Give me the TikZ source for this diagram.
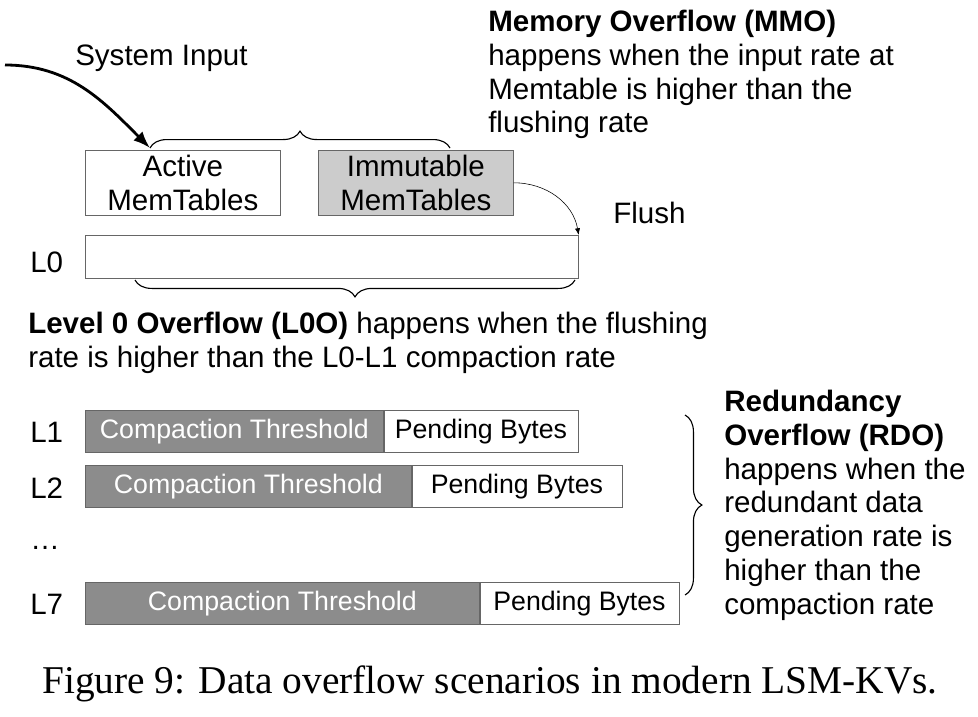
\documentclass[tikz,border=0pt]{standalone}
\usepackage{fontspec}
\setmainfont{Liberation Sans}
\newfontfamily\capfont{Liberation Serif}
\usetikzlibrary{arrows.meta, decorations.pathreplacing, positioning}
\definecolor{immgray}{HTML}{CCCCCC}
\definecolor{thrgray}{HTML}{8C8C8C}
\begin{document}
\begin{tikzpicture} [x=0.025cm, y=-0.025cm,
    every node/.style = {font=\fontsize{21}{24}\selectfont},
    txt/.style = {anchor=west, align=left, inner sep=0},
    membox/.style = {draw=black!60, minimum width=4.875cm, minimum height=1.625cm,
        align=center, inner sep=0},
    thr/.style = {draw=black!60, fill=thrgray, text=white, anchor=north west,
        minimum height=1.05cm, inner sep=0, font=\fontsize{19}{23}\selectfont},
    pend/.style = {draw=black!60, fill=white, anchor=north west,
        minimum height=1.05cm, inner sep=0, font=\fontsize{19}{23}\selectfont},
    brace/.style = {decorate, thick, decoration={brace, amplitude=12pt}}]
    \useasboundingbox (0,0) rectangle (978,716);

    % memtables
    \node (act) [membox, anchor=north west] at (85,150) {Active\\MemTables};
    \node (imm) [membox, anchor=north west, fill=immgray] at (318,150) {Immutable\\MemTables};
    \node (l0) [draw=black!60, anchor=north west, minimum width=12.325cm,
        minimum height=1.075cm, inner sep=0] at (85,235) {};
    \node (lab0) [txt] at (30,262) {L0};

    \coordinate (src) at (5,65);
    \coordinate (tip) at (150,148);
    \node (sysin) [txt] at (75,58) {System Input};
    \draw [-Latex, line width=2pt] (src) to[out=0, in=135] (tip);
    \node (flush) [txt] at (613,213) {Flush};
    \draw [-Latex] (imm.east) to[out=0, in=100] (l0.north east);

    \draw [brace] (150,148) -- (450,148);
    \draw [brace] (575,280) -- (135,280);

    \node (mmo) [txt, anchor=north west] at (488,10) {\textbf{Memory Overflow (MMO)}\\
        happens when the input rate at\\Memtable is higher than the\\flushing rate};
    \node (l0o) [txt, anchor=north west] at (28,312) {\textbf{Level 0 Overflow (L0O)} happens when the flushing\\
        rate is higher than the L0-L1 compaction rate};

    % levels
    \node (t1) [thr, minimum width=7.45cm] at (85,410) {Compaction Threshold};
    \node (p1) [pend, minimum width=4.85cm] at (t1.north east) {Pending Bytes};
    \node (t2) [thr, minimum width=8.15cm] at (85,465) {Compaction Threshold};
    \node (p2) [pend, minimum width=5.25cm] at (t2.north east) {Pending Bytes};
    \node (t7) [thr, minimum width=9.85cm] at (85,582) {Compaction Threshold};
    \node (p7) [pend, minimum width=4.975cm] at (t7.north east) {Pending Bytes};
    \node (lab1) [txt] at (30,432) {L1};
    \node (lab2) [txt] at (30,488) {L2};
    \node (dots) [txt] at (30,548) {\dots};
    \node (lab7) [txt] at (30,604) {L7};

    \draw [brace] (685,415) -- (685,595);
    \node (rdo) [txt, anchor=north west] at (724,390) {\textbf{Redundancy}\\\textbf{Overflow (RDO)}\\
        happens when the\\redundant data\\generation rate is\\higher than the\\compaction rate};

    \node (cap) [font=\capfont\fontsize{28}{32}\selectfont] at (490,684)
        {Figure 9: Data overflow scenarios in modern LSM-KVs.};
\end{tikzpicture}
\end{document}
